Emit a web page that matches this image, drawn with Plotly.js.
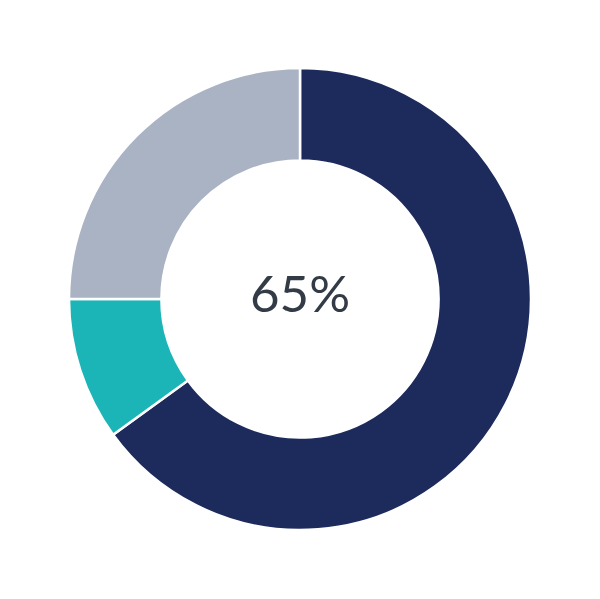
<!DOCTYPE html>
<html>
<head>
<meta charset="utf-8">
<script src="https://cdn.plot.ly/plotly-3.0.1.min.js"></script>
<style>
  html, body { margin: 0; padding: 0; background: #fff; }
  #chart { width: 600px; height: 599px; }
</style>
</head>
<body>
<div id="chart"></div>
<script>
// slice shares (clockwise from 12 o'clock)
var labels = ["A", "B", "C"];
var values = [65, 10, 25];
var colors = ["#1c2b5b", "#1bb5b8", "#a9b3c3"];
var centerText = "65%";

var trace = {
  type: "pie",
  labels: labels,
  values: values,
  hole: 0.6,
  sort: false,
  direction: "clockwise",
  rotation: 0,
  textinfo: "none",
  hoverinfo: "none",
  marker: { colors: colors, line: { color: "#ffffff", width: 2.5 } }
};

var layout = {
  width: 600,
  height: 599,
  showlegend: false,
  margin: { l: 68, r: 68, t: 68, b: 69 },
  paper_bgcolor: "#ffffff",
  annotations: [{
    text: centerText,
    x: 0.5, y: 0.5, xref: "paper", yref: "paper",
    yshift: 7,
    showarrow: false,
    font: { family: "Lato", size: 51, color: "#333b46", weight: 400 }
  }]
};

Plotly.newPlot("chart", [trace], layout, { staticPlot: true });
</script>
</body>
</html>
